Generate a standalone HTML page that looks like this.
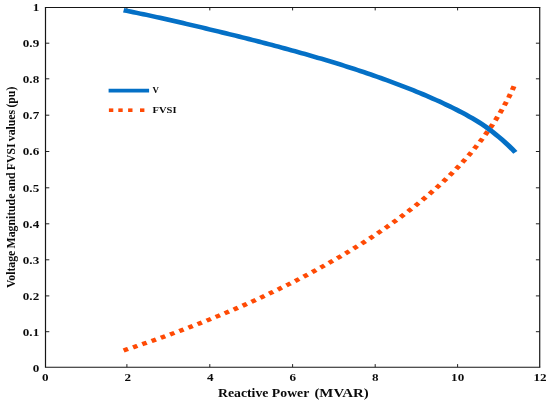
<!DOCTYPE html>
<html><head><meta charset="utf-8"><title>Plot</title>
<style>
html,body{margin:0;padding:0;background:#fff;}
body{width:550px;height:402px;overflow:hidden;}
svg{display:block;}
text{font-family:"Liberation Serif",serif;font-weight:bold;fill:#0a0a0a;}
</style></head><body>
<svg width="550" height="402" viewBox="0 0 550 402">
<rect width="550" height="402" fill="#fff"/>
<g stroke="#161616" stroke-width="1.05" fill="none">
<line x1="44.9" y1="7.45" x2="540.32" y2="7.45"/>
<line x1="44.9" y1="367.15" x2="540.32" y2="367.15"/>
<line x1="45.5" y1="7.45" x2="45.5" y2="367.15" stroke-width="1.2"/>
<line x1="539.72" y1="7.45" x2="539.72" y2="367.15" stroke-width="1.2"/>
<g stroke-width="0.95"><line x1="126.9" y1="367.1" x2="126.9" y2="364.1"/><line x1="126.9" y1="7.5" x2="126.9" y2="10.4"/><line x1="209.8" y1="367.1" x2="209.8" y2="364.1"/><line x1="209.8" y1="7.5" x2="209.8" y2="10.4"/><line x1="292.6" y1="367.1" x2="292.6" y2="364.1"/><line x1="292.6" y1="7.5" x2="292.6" y2="10.4"/><line x1="375.2" y1="367.1" x2="375.2" y2="364.1"/><line x1="375.2" y1="7.5" x2="375.2" y2="10.4"/><line x1="457.6" y1="367.1" x2="457.6" y2="364.1"/><line x1="457.6" y1="7.5" x2="457.6" y2="10.4"/><line x1="45.5" y1="331.7" x2="49.3" y2="331.7"/><line x1="539.7" y1="331.7" x2="535.9" y2="331.7"/><line x1="45.5" y1="295.9" x2="49.3" y2="295.9"/><line x1="539.7" y1="295.9" x2="535.9" y2="295.9"/><line x1="45.5" y1="259.8" x2="49.3" y2="259.8"/><line x1="539.7" y1="259.8" x2="535.9" y2="259.8"/><line x1="45.5" y1="223.8" x2="49.3" y2="223.8"/><line x1="539.7" y1="223.8" x2="535.9" y2="223.8"/><line x1="45.5" y1="187.8" x2="49.3" y2="187.8"/><line x1="539.7" y1="187.8" x2="535.9" y2="187.8"/><line x1="45.5" y1="151.5" x2="49.3" y2="151.5"/><line x1="539.7" y1="151.5" x2="535.9" y2="151.5"/><line x1="45.5" y1="115.2" x2="49.3" y2="115.2"/><line x1="539.7" y1="115.2" x2="535.9" y2="115.2"/><line x1="45.5" y1="78.8" x2="49.3" y2="78.8"/><line x1="539.7" y1="78.8" x2="535.9" y2="78.8"/><line x1="45.5" y1="43.2" x2="49.3" y2="43.2"/><line x1="539.7" y1="43.2" x2="535.9" y2="43.2"/></g>
</g>
<g transform="scale(1.2,1)">
<path d="M103.04,350.43 L105.78,349.35 L108.52,348.26 L111.27,347.17 L114.01,346.07 L116.75,344.95 L119.49,343.84 L122.24,342.71 L124.98,341.57 L127.72,340.43 L130.47,339.28 L133.21,338.12 L135.95,336.95 L138.70,335.77 L141.44,334.58 L144.18,333.38 L146.93,332.18 L149.67,330.96 L152.41,329.74 L155.16,328.50 L157.90,327.26 L160.64,326.01 L163.38,324.74 L166.13,323.47 L168.87,322.18 L171.61,320.89 L174.36,319.59 L177.10,318.27 L179.84,316.94 L182.59,315.61 L185.33,314.26 L188.07,312.90 L190.82,311.53 L193.56,310.15 L196.30,308.75 L199.05,307.35 L201.79,305.93 L204.53,304.50 L207.27,303.06 L210.02,301.59 L212.76,300.11 L215.50,298.61 L218.25,297.10 L220.99,295.57 L223.73,294.03 L226.48,292.48 L229.22,290.91 L231.96,289.33 L234.71,287.73 L237.45,286.12 L240.19,284.49 L242.93,282.85 L245.68,281.19 L248.42,279.52 L251.16,277.82 L253.91,276.11 L256.65,274.39 L259.39,272.64 L262.14,270.88 L264.88,269.10 L267.62,267.31 L270.37,265.50 L273.11,263.68 L275.85,261.84 L278.60,259.98 L281.34,258.09 L284.08,256.19 L286.82,254.26 L289.57,252.31 L292.31,250.33 L295.05,248.33 L297.80,246.31 L300.54,244.26 L303.28,242.19 L306.03,240.09 L308.77,237.96 L311.51,235.80 L314.26,233.62 L317.00,231.40 L319.74,229.15 L322.49,226.87 L325.23,224.56 L327.97,222.22 L330.71,219.83 L333.46,217.42 L336.20,214.96 L338.94,212.46 L341.69,209.93 L344.43,207.35 L347.17,204.73 L349.92,202.06 L352.66,199.34 L355.40,196.57 L358.15,193.76 L360.89,190.88 L363.63,187.95 L366.38,184.96 L369.12,181.90 L371.86,178.78 L374.60,175.59 L377.35,172.32 L380.09,168.97 L382.83,165.54 L385.58,162.02 L388.32,158.40 L391.06,154.68 L393.81,150.84 L396.55,146.89 L399.29,142.81 L402.04,138.58 L404.78,134.20 L407.52,129.64 L410.26,124.90 L413.01,119.93 L415.75,114.73 L418.49,109.25 L421.24,103.44 L423.98,97.26 L426.72,90.61 L429.47,83.41" fill="none" stroke="#ff4a05" stroke-width="4.3" stroke-dasharray="3.95 4.42"/>
<path d="M103.04,10.25 L105.78,10.91 L108.52,11.56 L111.27,12.23 L114.01,12.90 L116.75,13.57 L119.49,14.25 L122.24,14.94 L124.98,15.64 L127.72,16.35 L130.47,17.06 L133.21,17.79 L135.95,18.52 L138.70,19.26 L141.44,20.00 L144.18,20.76 L146.93,21.51 L149.67,22.28 L152.41,23.04 L155.16,23.81 L157.90,24.59 L160.64,25.37 L163.38,26.15 L166.13,26.93 L168.87,27.71 L171.61,28.50 L174.36,29.29 L177.10,30.08 L179.84,30.87 L182.59,31.67 L185.33,32.47 L188.07,33.27 L190.82,34.07 L193.56,34.88 L196.30,35.69 L199.05,36.51 L201.79,37.33 L204.53,38.16 L207.27,38.99 L210.02,39.83 L212.76,40.67 L215.50,41.52 L218.25,42.38 L220.99,43.24 L223.73,44.10 L226.48,44.97 L229.22,45.85 L231.96,46.73 L234.71,47.62 L237.45,48.51 L240.19,49.41 L242.93,50.31 L245.68,51.23 L248.42,52.14 L251.16,53.06 L253.91,53.99 L256.65,54.93 L259.39,55.87 L262.14,56.82 L264.88,57.77 L267.62,58.74 L270.37,59.71 L273.11,60.69 L275.85,61.68 L278.60,62.69 L281.34,63.70 L284.08,64.72 L286.82,65.75 L289.57,66.79 L292.31,67.85 L295.05,68.92 L297.80,70.00 L300.54,71.09 L303.28,72.19 L306.03,73.31 L308.77,74.44 L311.51,75.58 L314.26,76.74 L317.00,77.90 L319.74,79.08 L322.49,80.28 L325.23,81.48 L327.97,82.70 L330.71,83.94 L333.46,85.18 L336.20,86.45 L338.94,87.72 L341.69,89.02 L344.43,90.33 L347.17,91.66 L349.92,93.01 L352.66,94.38 L355.40,95.77 L358.15,97.19 L360.89,98.64 L363.63,100.11 L366.38,101.60 L369.12,103.13 L371.86,104.68 L374.60,106.27 L377.35,107.88 L380.09,109.53 L382.83,111.22 L385.58,112.95 L388.32,114.72 L391.06,116.55 L393.81,118.43 L396.55,120.38 L399.29,122.42 L402.04,124.56 L404.78,126.83 L407.52,129.21 L410.26,131.70 L413.01,134.29 L415.75,136.99 L418.49,139.80 L421.24,142.71 L423.98,145.76 L426.72,148.96 L429.47,152.38" fill="none" stroke="#0470c6" stroke-width="4.5"/>
<line x1="90.50" y1="90.6" x2="124.25" y2="90.6" stroke="#0470c6" stroke-width="3.6"/>
</g>
<rect x="108.90" y="108.40" width="4.4" height="3.6" fill="#ff4a05"/><rect x="118.30" y="108.40" width="4.4" height="3.6" fill="#ff4a05"/><rect x="128.10" y="108.40" width="4.4" height="3.6" fill="#ff4a05"/><rect x="140.00" y="108.40" width="4.4" height="3.6" fill="#ff4a05"/>
<text x="218.0" y="396.8" font-size="12" textLength="91.3" lengthAdjust="spacingAndGlyphs">Reactive Power</text>
<text x="314.4" y="396.8" font-size="12" textLength="54.3" lengthAdjust="spacingAndGlyphs">(MVAR)</text>
<text x="152.4" y="93.4" font-size="8.2" textLength="6.4" lengthAdjust="spacingAndGlyphs">V</text>
<text x="152.5" y="113.4" font-size="8.2" textLength="24" lengthAdjust="spacingAndGlyphs">FVSI</text>
<g transform="scale(1.17,1)" font-size="11.2"><text x="38.72" y="381.5" text-anchor="middle">0</text><text x="109.20" y="381.5" text-anchor="middle">2</text><text x="179.69" y="381.5" text-anchor="middle">4</text><text x="250.17" y="381.5" text-anchor="middle">6</text><text x="320.66" y="381.5" text-anchor="middle">8</text><text x="391.14" y="381.5" text-anchor="middle">10</text><text x="461.62" y="381.5" text-anchor="middle">12</text><text x="33.50" y="371.80" text-anchor="end">0</text><text x="33.50" y="335.75" text-anchor="end">0.1</text><text x="33.50" y="299.70" text-anchor="end">0.2</text><text x="33.50" y="263.65" text-anchor="end">0.3</text><text x="33.50" y="227.60" text-anchor="end">0.4</text><text x="33.50" y="191.55" text-anchor="end">0.5</text><text x="33.50" y="155.50" text-anchor="end">0.6</text><text x="33.50" y="119.45" text-anchor="end">0.7</text><text x="33.50" y="83.40" text-anchor="end">0.8</text><text x="33.50" y="47.35" text-anchor="end">0.9</text><text x="33.50" y="11.30" text-anchor="end">1</text></g>
<text transform="translate(15.0,187.4) rotate(-90) scale(1,1.05)" font-size="11.75" word-spacing="-0.65" text-anchor="middle">Voltage Magnitude and FVSI values (pu)</text>
</svg>
</body></html>
